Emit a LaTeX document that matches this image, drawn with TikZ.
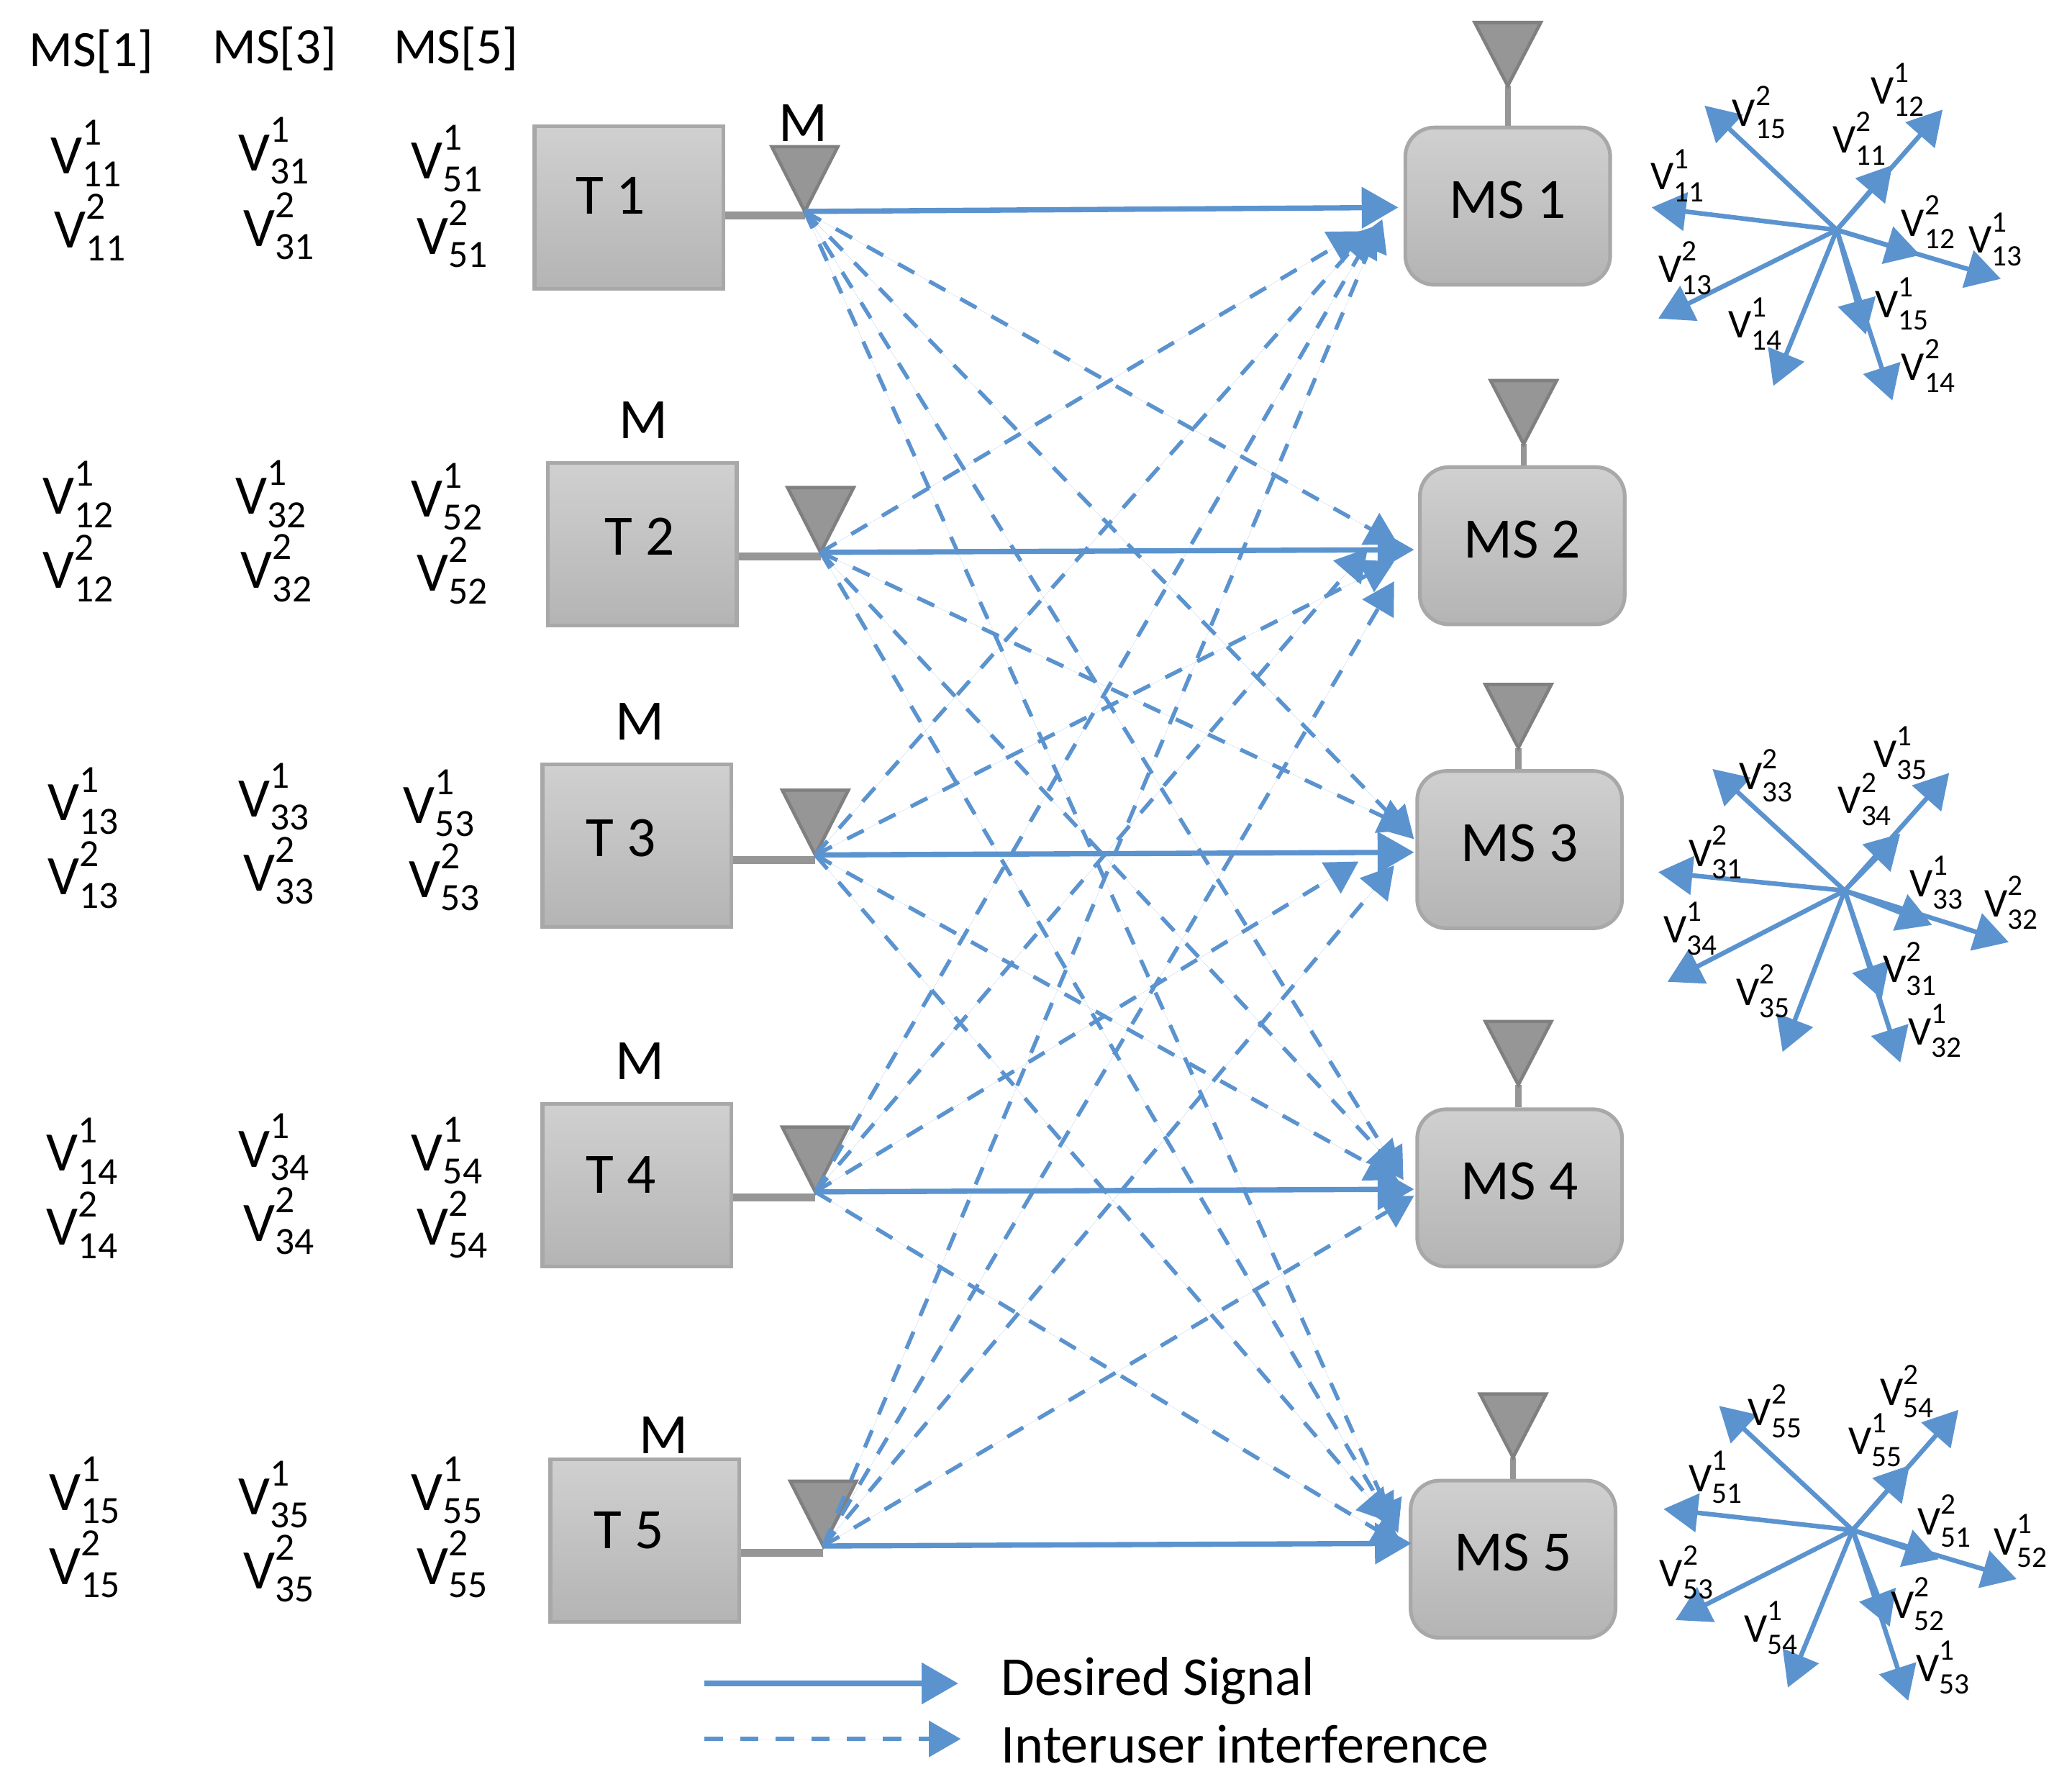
\documentclass[tikz,border=0pt]{standalone}
\usepackage{fontspec}
\setmainfont{Carlito}
\usetikzlibrary{shapes,positioning,arrows}
\definecolor{sigblue}{HTML}{5B93CF}
\definecolor{antgray}{HTML}{969696}
\definecolor{antedge}{HTML}{808080}
\definecolor{boxedge}{HTML}{A8A8A8}
\definecolor{boxtop}{HTML}{D0D0D0}
\definecolor{boxbot}{HTML}{B4B4B4}
\DeclareMathSizes{12}{12}{8.3}{7}
\DeclareMathSizes{8.8}{8.8}{6.4}{5}
\newcommand{\Vlab}[2]{$\mathrm{V}_{\mathrm{#1}}^{\mathrm{#2}\vrule depth .17em width 0pt}$}
\begin{document}
\begin{tikzpicture}[x=0.1mm,y=-0.1mm]

  \useasboundingbox (0,0) rectangle (1568,1352);

  \coordinate (T1) at (476,157);
  \coordinate (T2) at (486,412);
  \coordinate (T3) at (482,640);
  \coordinate (T4) at (482,897);
  \coordinate (T5) at (488,1166);

  \coordinate (MS1) at (1141,156);
  \coordinate (MS2) at (1152,413);
  \coordinate (MS3) at (1150,643);
  \coordinate (MS4) at (1150,899);
  \coordinate (MS5) at (1145,1180);

  \coordinate (TxA1) at (609,160);
  \coordinate (TxA2) at (621,418);
  \coordinate (TxA3) at (617,647);
  \coordinate (TxA4) at (617,902);
  \coordinate (TxA5) at (623,1170);

  \coordinate (TxF1) at (609,163);
  \coordinate (TxF2) at (621,421);
  \coordinate (TxF3) at (617,651);
  \coordinate (TxF4) at (617,906);
  \coordinate (TxF5) at (623,1175);

  \coordinate (RxA1) at (1141,65);
  \coordinate (RxA2) at (1153,336);
  \coordinate (RxA3) at (1149,566);
  \coordinate (RxA4) at (1149,821);
  \coordinate (RxA5) at (1145,1103);

  \tikzstyle{tbox}=[draw=boxedge,thick,shape=rectangle,
                    top color=boxtop,bottom color=boxbot,
                    minimum width=14.3cm/10,minimum height=12.3cm/10];
  \tikzstyle{msbox}=[draw=boxedge,thick,shape=rectangle,rounded corners=2.2mm,
                    top color=boxtop,bottom color=boxbot,
                    minimum width=15.5cm/10,minimum height=11.9cm/10,
                    text depth=1mm,font=\fontsize{12.3}{15}\selectfont];
  \tikzstyle{ttxt}=[font=\fontsize{12.3}{15}\selectfont];
  \tikzstyle{head}=[font=\fontsize{11}{13}\selectfont];
  \tikzstyle{keytxt}=[font=\fontsize{11.8}{14}\selectfont,anchor=west,inner sep=0pt];
  \tikzstyle{vleft}=[font=\fontsize{12}{14}\selectfont,inner sep=0pt];
  \tikzstyle{vstar}=[font=\fontsize{8.8}{10}\selectfont,inner sep=0pt];
  \tikzstyle{antenna}=[draw=antedge,line width=0.25mm,fill=antgray];
  \tikzstyle{feed}=[draw=antgray,line width=0.6mm];
  \tikzstyle{mast}=[draw=antgray,line width=0.45mm];
  \tikzstyle{sigline}=[->,draw=sigblue,fill=sigblue,line width=0.4mm,>=triangle 60];
  \tikzstyle{intline}=[->,draw=sigblue,fill=sigblue,line width=0.3mm,>=triangle 60,
                    dash pattern=on 1.4mm off 1.3mm];
  \tikzstyle{starline}=[->,draw=sigblue,fill=sigblue,line width=0.35mm,>=triangle 60];

  % column heads
  \node[head] (HeadA) at (69,39) {MS[1]};
  \node[head] (HeadC) at (208,37) {MS[3]};
  \node[head] (HeadE) at (345,37) {MS[5]};

  % transmit precoders, left table
  \node[vleft] (LA1a) at (66,116) {\Vlab{11}{1}};
  \node[vleft] (LA1b) at (69,172) {\Vlab{11}{2}};
  \node[vleft] (LC1a) at (208,114) {\Vlab{31}{1}};
  \node[vleft] (LC1b) at (212,171) {\Vlab{31}{2}};
  \node[vleft] (LE1a) at (339,120) {\Vlab{51}{1}};
  \node[vleft] (LE1b) at (343,177) {\Vlab{51}{2}};

  \node[vleft] (LA2a) at (60,374) {\Vlab{12}{1}};
  \node[vleft] (LA2b) at (60,430) {\Vlab{12}{2}};
  \node[vleft] (LC2a) at (206,374) {\Vlab{32}{1}};
  \node[vleft] (LC2b) at (210,430) {\Vlab{32}{2}};
  \node[vleft] (LE2a) at (339,376) {\Vlab{52}{1}};
  \node[vleft] (LE2b) at (343,432) {\Vlab{52}{2}};

  \node[vleft] (LA3a) at (64,606) {\Vlab{13}{1}};
  \node[vleft] (LA3b) at (64,662) {\Vlab{13}{2}};
  \node[vleft] (LC3a) at (208,603) {\Vlab{33}{1}};
  \node[vleft] (LC3b) at (212,659) {\Vlab{33}{2}};
  \node[vleft] (LE3a) at (333,608) {\Vlab{53}{1}};
  \node[vleft] (LE3b) at (337,664) {\Vlab{53}{2}};

  \node[vleft] (LA4a) at (63,871) {\Vlab{14}{1}};
  \node[vleft] (LA4b) at (63,927) {\Vlab{14}{2}};
  \node[vleft] (LC4a) at (208,868) {\Vlab{34}{1}};
  \node[vleft] (LC4b) at (212,924) {\Vlab{34}{2}};
  \node[vleft] (LE4a) at (339,871) {\Vlab{54}{1}};
  \node[vleft] (LE4b) at (343,927) {\Vlab{54}{2}};

  \node[vleft] (LA5a) at (65,1128) {\Vlab{15}{1}};
  \node[vleft] (LA5b) at (65,1184) {\Vlab{15}{2}};
  \node[vleft] (LC5a) at (208,1131) {\Vlab{35}{1}};
  \node[vleft] (LC5b) at (212,1187) {\Vlab{35}{2}};
  \node[vleft] (LE5a) at (339,1128) {\Vlab{55}{1}};
  \node[vleft] (LE5b) at (343,1184) {\Vlab{55}{2}};

  % transmitters
  \node[tbox] (T1Box) at (T1) {};
  \node[tbox] (T2Box) at (T2) {};
  \node[tbox] (T3Box) at (T3) {};
  \node[tbox] (T4Box) at (T4) {};
  \node[tbox] (T5Box) at (T5) {};
  \node[ttxt] (T1Txt) at (462,148) {T 1};
  \node[ttxt] (T2Txt) at (484,406) {T 2};
  \node[ttxt] (T3Txt) at (470,634) {T 3};
  \node[ttxt] (T4Txt) at (470,889) {T 4};
  \node[ttxt] (T5Txt) at (476,1158) {T 5};
  \node[ttxt] (M1) at (608,93) {M};
  \node[ttxt] (M2) at (487,318) {M};
  \node[ttxt] (M3) at (484,546) {M};
  \node[ttxt] (M4) at (484,803) {M};
  \node[ttxt] (M5) at (502,1086) {M};

  \draw[feed] (T1Box.east |- TxF1) -- (TxF1);
  \draw[feed] (T2Box.east |- TxF2) -- (TxF2);
  \draw[feed] (T3Box.east |- TxF3) -- (TxF3);
  \draw[feed] (T4Box.east |- TxF4) -- (TxF4);
  \draw[feed] (T5Box.east |- TxF5) -- (TxF5);
  \draw[antenna] (TxA1) -- ++(-25,-49) -- ++(50,0) -- cycle;
  \draw[antenna] (TxA2) -- ++(-25,-49) -- ++(50,0) -- cycle;
  \draw[antenna] (TxA3) -- ++(-25,-49) -- ++(50,0) -- cycle;
  \draw[antenna] (TxA4) -- ++(-25,-49) -- ++(50,0) -- cycle;
  \draw[antenna] (TxA5) -- ++(-25,-49) -- ++(50,0) -- cycle;

  % receivers
  \node[msbox] (MS1Box) at (MS1) {MS 1};
  \node[msbox] (MS2Box) at (MS2) {MS 2};
  \node[msbox] (MS3Box) at (MS3) {MS 3};
  \node[msbox] (MS4Box) at (MS4) {MS 4};
  \node[msbox] (MS5Box) at (MS5) {MS 5};
  \draw[mast] (RxA1) -- (RxA1 |- MS1Box.north);
  \draw[mast] (RxA2) -- (RxA2 |- MS2Box.north);
  \draw[mast] (RxA3) -- (RxA3 |- MS3Box.north);
  \draw[mast] (RxA4) -- (RxA4 |- MS4Box.north);
  \draw[mast] (RxA5) -- (RxA5 |- MS5Box.north);
  \draw[antenna] (RxA1) -- ++(-25,-48) -- ++(50,0) -- cycle;
  \draw[antenna] (RxA2) -- ++(-25,-48) -- ++(50,0) -- cycle;
  \draw[antenna] (RxA3) -- ++(-25,-48) -- ++(50,0) -- cycle;
  \draw[antenna] (RxA4) -- ++(-25,-48) -- ++(50,0) -- cycle;
  \draw[antenna] (RxA5) -- ++(-25,-48) -- ++(50,0) -- cycle;

  % desired signal
  \coordinate (Sig1) at (1058,157);
  \coordinate (Sig2) at (1070,416);
  \coordinate (Sig3) at (1070,645);
  \coordinate (Sig4) at (1070,900);
  \coordinate (Sig5) at (1068,1168);
  \draw[sigline] (TxA1) -- (Sig1);
  \draw[sigline] (TxA2) -- (Sig2);
  \draw[sigline] (TxA3) -- (Sig3);
  \draw[sigline] (TxA4) -- (Sig4);
  \draw[sigline] (TxA5) -- (Sig5);

  % interference, Hit<from><to>
  \coordinate (Hit21) at (1030,175);
  \coordinate (Hit31) at (1038,172);
  \coordinate (Hit41) at (1042,170);
  \coordinate (Hit51) at (1046,166);
  \coordinate (Hit12) at (1058,412);
  \coordinate (Hit32) at (1055,425);
  \coordinate (Hit42) at (1035,415);
  \coordinate (Hit52) at (1055,440);
  \coordinate (Hit13) at (1070,635);
  \coordinate (Hit23) at (1068,628);
  \coordinate (Hit43) at (1028,652);
  \coordinate (Hit53) at (1055,655);
  \coordinate (Hit14) at (1062,893);
  \coordinate (Hit24) at (1060,888);
  \coordinate (Hit34) at (1058,893);
  \coordinate (Hit54) at (1070,905);
  \coordinate (Hit15) at (1058,1160);
  \coordinate (Hit25) at (1055,1155);
  \coordinate (Hit35) at (1052,1152);
  \coordinate (Hit45) at (1062,1170);

  \draw[intline] (TxA2) -- (Hit21);
  \draw[intline] (TxA3) -- (Hit31);
  \draw[intline] (TxA4) -- (Hit41);
  \draw[intline] (TxA5) -- (Hit51);
  \draw[intline] (TxA1) -- (Hit12);
  \draw[intline] (TxA3) -- (Hit32);
  \draw[intline] (TxA4) -- (Hit42);
  \draw[intline] (TxA5) -- (Hit52);
  \draw[intline] (TxA1) -- (Hit13);
  \draw[intline] (TxA2) -- (Hit23);
  \draw[intline] (TxA4) -- (Hit43);
  \draw[intline] (TxA5) -- (Hit53);
  \draw[intline] (TxA1) -- (Hit14);
  \draw[intline] (TxA2) -- (Hit24);
  \draw[intline] (TxA3) -- (Hit34);
  \draw[intline] (TxA5) -- (Hit54);
  \draw[intline] (TxA1) -- (Hit15);
  \draw[intline] (TxA2) -- (Hit25);
  \draw[intline] (TxA3) -- (Hit35);
  \draw[intline] (TxA4) -- (Hit45);

  % star at MS 1
  \coordinate (StarA) at (1390,174);
  \coordinate (StarAw) at (1250,157);
  \coordinate (StarAne) at (1470,83);
  \coordinate (StarAnm) at (1432,125);
  \coordinate (StarAse) at (1514,211);
  \coordinate (StarAsm) at (1453,193);
  \coordinate (StarAs) at (1432,303);
  \coordinate (StarAm) at (1412,253);
  \coordinate (StarAd) at (1342,292);
  \coordinate (StarAsw) at (1255,241);
  \coordinate (StarAnw) at (1290,80);
  \draw[starline] (StarA) -- (StarAw);
  \draw[starline] (StarA) -- (StarAne);
  \draw[starline] (StarA) -- (StarAnm);
  \draw[starline] (StarA) -- (StarAse);
  \draw[starline] (StarA) -- (StarAsm);
  \draw[starline] (StarA) -- (StarAs);
  \draw[starline] (StarA) -- (StarAm);
  \draw[starline] (StarA) -- (StarAd);
  \draw[starline] (StarA) -- (StarAsw);
  \draw[starline] (StarA) -- (StarAnw);
  \node[vstar] (SA1) at (1270,133) {\Vlab{11}{1}};
  \node[vstar] (SA2) at (1437,68) {\Vlab{12}{1}};
  \node[vstar] (SA3) at (1408,105) {\Vlab{11}{2}};
  \node[vstar] (SA4) at (1332,85) {\Vlab{15}{2}};
  \node[vstar] (SA5) at (1460,168) {\Vlab{12}{2}};
  \node[vstar] (SA6) at (1511,181) {\Vlab{13}{1}};
  \node[vstar] (SA7) at (1276,203) {\Vlab{13}{2}};
  \node[vstar] (SA8) at (1440,230) {\Vlab{15}{1}};
  \node[vstar] (SA9) at (1329,245) {\Vlab{14}{1}};
  \node[vstar] (SA10) at (1460,277) {\Vlab{14}{2}};

  % star at MS 3
  \coordinate (StarC) at (1396,674);
  \coordinate (StarCw) at (1255,660);
  \coordinate (StarCne) at (1475,585);
  \coordinate (StarCnm) at (1438,631);
  \coordinate (StarCse) at (1520,713);
  \coordinate (StarCsm) at (1462,700);
  \coordinate (StarCs) at (1438,804);
  \coordinate (StarCm) at (1424,756);
  \coordinate (StarCd) at (1349,796);
  \coordinate (StarCsw) at (1262,743);
  \coordinate (StarCnw) at (1296,582);
  \draw[starline] (StarC) -- (StarCw);
  \draw[starline] (StarC) -- (StarCne);
  \draw[starline] (StarC) -- (StarCnm);
  \draw[starline] (StarC) -- (StarCse);
  \draw[starline] (StarC) -- (StarCsm);
  \draw[starline] (StarC) -- (StarCs);
  \draw[starline] (StarC) -- (StarCm);
  \draw[starline] (StarC) -- (StarCd);
  \draw[starline] (StarC) -- (StarCsw);
  \draw[starline] (StarC) -- (StarCnw);
  \node[vstar] (SC1) at (1439,570) {\Vlab{35}{1}};
  \node[vstar] (SC2) at (1412,605) {\Vlab{34}{2}};
  \node[vstar] (SC3) at (1337,587) {\Vlab{33}{2}};
  \node[vstar] (SC4) at (1299,645) {\Vlab{31}{2}};
  \node[vstar] (SC5) at (1466,668) {\Vlab{33}{1}};
  \node[vstar] (SC6) at (1523,683) {\Vlab{32}{2}};
  \node[vstar] (SC7) at (1280,703) {\Vlab{34}{1}};
  \node[vstar] (SC8) at (1446,733) {\Vlab{31}{2}};
  \node[vstar] (SC9) at (1335,750) {\Vlab{35}{2}};
  \node[vstar] (SC10) at (1465,780) {\Vlab{32}{1}};

  % star at MS 5
  \coordinate (StarE) at (1402,1158);
  \coordinate (StarEw) at (1259,1142);
  \coordinate (StarEne) at (1482,1067);
  \coordinate (StarEnm) at (1445,1109);
  \coordinate (StarEse) at (1526,1195);
  \coordinate (StarEsm) at (1467,1180);
  \coordinate (StarEs) at (1444,1287);
  \coordinate (StarEm) at (1430,1231);
  \coordinate (StarEd) at (1353,1277);
  \coordinate (StarEsw) at (1268,1226);
  \coordinate (StarEnw) at (1301,1064);
  \draw[starline] (StarE) -- (StarEw);
  \draw[starline] (StarE) -- (StarEne);
  \draw[starline] (StarE) -- (StarEnm);
  \draw[starline] (StarE) -- (StarEse);
  \draw[starline] (StarE) -- (StarEsm);
  \draw[starline] (StarE) -- (StarEs);
  \draw[starline] (StarE) -- (StarEm);
  \draw[starline] (StarE) -- (StarEd);
  \draw[starline] (StarE) -- (StarEsw);
  \draw[starline] (StarE) -- (StarEnw);
  \node[vstar] (SE1) at (1444,1053) {\Vlab{54}{2}};
  \node[vstar] (SE2) at (1420,1090) {\Vlab{55}{1}};
  \node[vstar] (SE3) at (1344,1068) {\Vlab{55}{2}};
  \node[vstar] (SE4) at (1299,1118) {\Vlab{51}{1}};
  \node[vstar] (SE5) at (1472,1151) {\Vlab{51}{2}};
  \node[vstar] (SE6) at (1530,1166) {\Vlab{52}{1}};
  \node[vstar] (SE7) at (1277,1190) {\Vlab{53}{2}};
  \node[vstar] (SE8) at (1452,1214) {\Vlab{52}{2}};
  \node[vstar] (SE9) at (1341,1232) {\Vlab{54}{1}};
  \node[vstar] (SE10) at (1471,1262) {\Vlab{53}{1}};

  % legend
  \coordinate (KeyA) at (533,1274);
  \coordinate (KeyB) at (725,1274);
  \coordinate (KeyC) at (533,1316);
  \coordinate (KeyD) at (727,1316);
  \draw[sigline] (KeyA) -- (KeyB);
  \draw[intline] (KeyC) -- (KeyD);
  \node[keytxt] (KeyTxtA) at (757,1272) {Desired Signal};
  \node[keytxt] (KeyTxtB) at (757,1320) {Interuser interference};

\end{tikzpicture}
\end{document}
